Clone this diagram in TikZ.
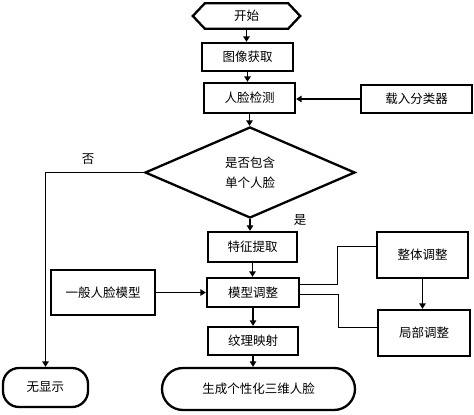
\documentclass[tikz,border=0pt]{standalone}
\usepackage{fontspec}
\setmainfont{Noto Sans CJK SC}
\usetikzlibrary{shapes.geometric,arrows.meta,calc}
\tikzset{
  box/.style={draw, line width=2.3pt, minimum width=#1, inner sep=0pt, font=\fontsize{12.5}{14}\selectfont},
  term/.style={draw, line width=2.3pt, inner sep=0pt, font=\fontsize{12.5}{14}\selectfont},
  arr/.style={line width=1.7pt, -{Triangle[width=6.5pt,length=5.5pt]}},
  link/.style={line width=1pt},
  lbl/.style={font=\fontsize{12.5}{14}\selectfont, inner sep=0pt}
}
\begin{document}
\begin{tikzpicture}[x=1pt,y=-1pt]
\useasboundingbox (0,0) rectangle (474,415);
% start hexagon
\node[lbl, minimum width=107pt, minimum height=25pt] (start) at (246.5,16) {开始};
\draw[line width=2.3pt, line join=miter] (start.west) -- ($(start.north west)+(12,0)$) -- ($(start.north east)+(-12,0)$) -- (start.east) -- ($(start.south east)+(-12,0)$) -- ($(start.south west)+(12,0)$) -- cycle;
\node[box=91pt, minimum height=28pt] (img) at (247.5,57) {图像获取};
\node[box=91pt, minimum height=30pt] (det) at (249.5,98) {人脸检测};
\node[box=111pt, minimum height=28pt] (cls) at (416.5,99) {载入分类器};
\node[draw, line width=2.3pt, shape=diamond, aspect=2.3, minimum width=210pt, minimum height=91pt, inner sep=0pt, align=center, font=\fontsize{12.5}{20}\selectfont] (dia) at (250,172.5) {是否包含\\单个人脸};
\node[box=89pt, minimum height=30pt] (feat) at (252.5,247) {特征提取};
\node[box=92pt, minimum height=29pt] (mod) at (253,292.5) {模型调整};
\node[box=104pt, minimum height=45pt] (gen) at (103,292.5) {一般人脸模型};
\node[box=90pt, minimum height=28pt] (tex) at (253,341) {纹理映射};
\node[box=91pt, minimum height=46pt] (whole) at (422.5,255) {整体调整};
\node[box=92pt, minimum height=46pt] (part) at (424,333) {局部调整};
\node[term, rounded corners=16pt, minimum width=85pt, minimum height=39pt] (none) at (45.5,387.5) {无显示};
\node[term, rounded corners=21pt, minimum width=193pt, minimum height=42pt] (out) at (258.5,389) {生成个性化三维人脸};
\node[lbl] (no) at (88,159) {否};
\node[lbl] (yes) at (300,220) {是};
% connectors
\draw[arr] (start.south) -- (start.south |- img.north);
\draw[arr] (img.south) -- (img.south |- det.north);
\draw[arr] (cls.west) -- (cls.west -| det.east);
\draw[arr] (det.south) -- (det.south |- dia.north);
\draw[arr] (dia.west) -| (none.north);
\draw[arr] (dia.south) -- (dia.south |- feat.north);
\draw[arr] (feat.south) -- (feat.south |- mod.north);
\draw[arr] (gen.east) -- (gen.east -| mod.west);
\draw[arr] (mod.south) -- (mod.south |- tex.north);
\draw[arr] (tex.south) -- (tex.south |- out.north);
\draw[arr] (whole.south) -- (whole.south |- part.north);
\coordinate (w1) at ($(whole.west)+(0,-9)$);
\coordinate (p1) at ($(part.west)+(0,-6)$);
\draw[link] ($(mod.east)+(0,-8)$) -| ($(w1)+(-38,0)$) -- (w1);
\draw[link] ($(mod.east)+(0,1.5)$) -| ($(p1)+(-38,0)$) -- (p1);
\end{tikzpicture}
\end{document}
